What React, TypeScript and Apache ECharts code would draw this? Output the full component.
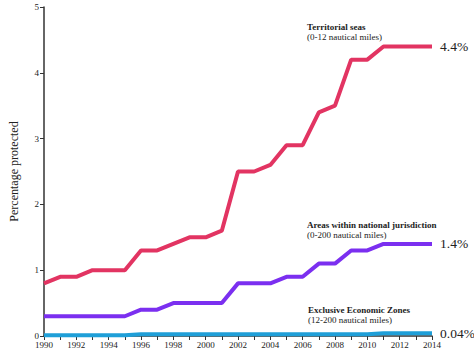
import React, { useEffect, useRef } from "react";
import * as echarts from "echarts";

const years = ["1990","1991","1992","1993","1994","1995","1996","1997","1998","1999","2000","2001","2002","2003","2004","2005","2006","2007","2008","2009","2010","2011","2012","2013","2014"];
const territorial = [0.8,0.9,0.9,1.0,1.0,1.0,1.3,1.3,1.4,1.5,1.5,1.6,2.5,2.5,2.6,2.9,2.9,3.4,3.5,4.2,4.2,4.4,4.4,4.4,4.4];
const national = [0.3,0.3,0.3,0.3,0.3,0.3,0.4,0.4,0.5,0.5,0.5,0.5,0.8,0.8,0.8,0.9,0.9,1.1,1.1,1.3,1.3,1.4,1.4,1.4,1.4];
const eez = [0.01,0.01,0.01,0.01,0.01,0.01,0.025,0.025,0.025,0.025,0.025,0.025,0.025,0.025,0.025,0.025,0.025,0.025,0.025,0.025,0.025,0.04,0.04,0.04,0.04];
const endLabels = ["4.4%", "1.4%", "0.04%"];
const seriesNames = ["Territorial seas", "Areas within national jurisdiction", "Exclusive Economic Zones"];
const seriesSub = ["(0-12 nautical miles)", "(0-200 nautical miles)", "(12-200 nautical miles)"];
const colors = ["#e23462", "#7b2ff0", "#1f9fd8"];
const yTicks = [0, 1, 2, 3, 4, 5];

const FONT = "Liberation Serif";

export default function App() {
  const ref = useRef<HTMLDivElement>(null);
  useEffect(() => {
    const chart = echarts.init(ref.current!, null, { renderer: "svg" });
    const mk = (data: number[], i: number) => ({
      type: "line",
      name: seriesNames[i],
      data,
      showSymbol: false,
      symbol: "none",
      lineStyle: { color: colors[i], width: 4 },
      itemStyle: { color: colors[i] },
      endLabel: {
        show: true,
        formatter: () => endLabels[i],
        color: "#222",
        fontFamily: FONT,
        fontSize: 13.5,
        distance: 8,
      },
      z: 3 - i,
    });
    chart.setOption({
      animation: false,
      grid: { left: 38, right: 42, top: 7, bottom: 15 },
      xAxis: {
        type: "category",
        data: years,
        boundaryGap: false,
        axisLine: { show: true, lineStyle: { color: "#333", width: 1.5 } },
        axisTick: { show: true, interval: 0, length: 4, lineStyle: { color: "#333" } },
        axisLabel: { interval: 1, color: "#222", fontFamily: FONT, fontSize: 9, margin: 4 },
        splitLine: { show: false },
      },
      yAxis: {
        type: "value",
        min: yTicks[0],
        max: yTicks[yTicks.length - 1],
        interval: 1,
        name: "Percentage protected",
        nameLocation: "middle",
        nameGap: 24,
        nameTextStyle: { color: "#222", fontFamily: FONT, fontSize: 12 },
        axisLine: { show: true, lineStyle: { color: "#333", width: 1.5 } },
        axisTick: { show: true, length: 4, lineStyle: { color: "#333" } },
        axisLabel: { color: "#222", fontFamily: FONT, fontSize: 9, margin: 5 },
        splitLine: { show: false },
      },
      series: [mk(territorial, 0), mk(national, 1), mk(eez, 2)],
      graphic: [
        { type: "text", x: 307, y: 22, style: { text: seriesNames[0], font: `bold 9px ${FONT}`, fill: "#222" } },
        { type: "text", x: 307, y: 32, style: { text: seriesSub[0], font: `9px ${FONT}`, fill: "#222" } },
        { type: "text", x: 307, y: 220, style: { text: seriesNames[1], font: `bold 9px ${FONT}`, fill: "#222" } },
        { type: "text", x: 307, y: 230, style: { text: seriesSub[1], font: `9px ${FONT}`, fill: "#222" } },
        { type: "text", x: 308, y: 305, style: { text: seriesNames[2], font: `bold 9px ${FONT}`, fill: "#222" } },
        { type: "text", x: 308, y: 315, style: { text: seriesSub[2], font: `9px ${FONT}`, fill: "#222" } },
      ],
    });
    return () => chart.dispose();
  }, []);
  return <div ref={ref} style={{ width: 474, height: 351, position: "absolute", left: 0, top: 0, background: "#fff" }} />;
}
